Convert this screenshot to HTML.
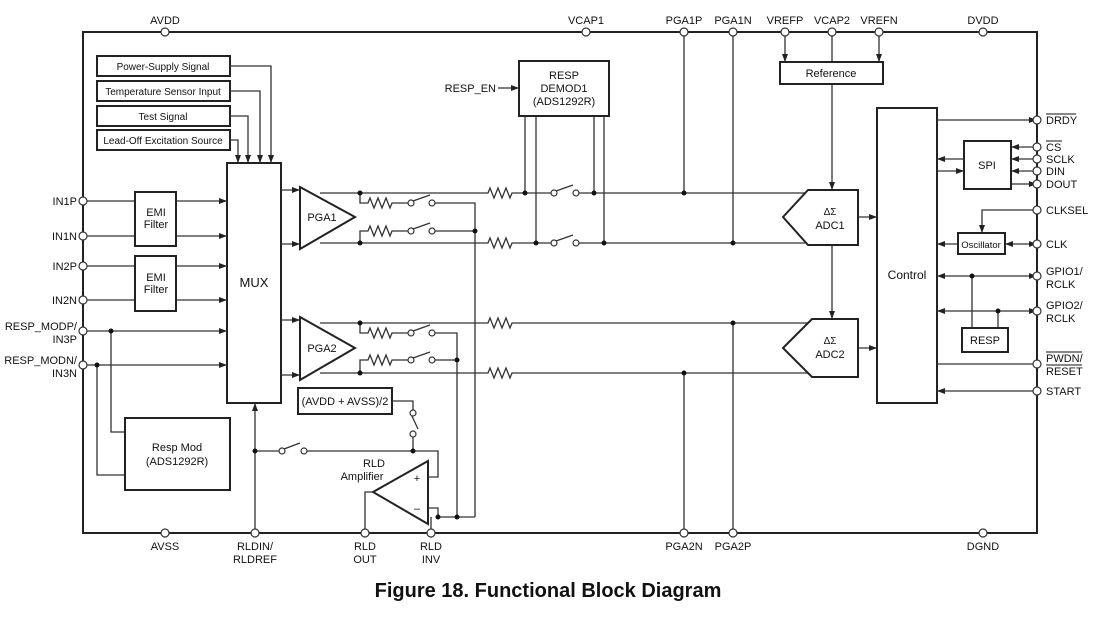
<!DOCTYPE html>
<html><head><meta charset="utf-8"><style>
body{margin:0;background:#fff;}
svg{display:block;font-family:"Liberation Sans",Arial,sans-serif;}
text{font-size:11px;fill:#111;}
.sm{font-size:10px;}
.l{stroke:#333;stroke-width:1.3;fill:none;}
.b{stroke:#222;stroke-width:2;fill:#fff;}
.p{fill:#fff;stroke:#333;stroke-width:1.2;}
.d{fill:#111;}
</style></head><body>
<svg width="1105" height="618" viewBox="0 0 1105 618">
<defs>
<marker id="a" markerWidth="8" markerHeight="6" refX="8" refY="3" orient="auto" markerUnits="userSpaceOnUse"><path d="M0,0L8,3L0,6z" fill="#222"/></marker>
<marker id="s" markerWidth="8" markerHeight="6" refX="0" refY="3" orient="auto" markerUnits="userSpaceOnUse"><path d="M8,0L0,3L8,6z" fill="#222"/></marker>
</defs>
<rect x="83" y="32" width="954" height="501" fill="none" stroke="#222" stroke-width="2"/>

<rect class="b" x="97" y="56" width="133" height="20"/><text class="sm" x="163" y="70" text-anchor="middle">Power-Supply Signal</text>
<rect class="b" x="97" y="81" width="133" height="20"/><text class="sm" x="163" y="95" text-anchor="middle">Temperature Sensor Input</text>
<rect class="b" x="97" y="106" width="133" height="20"/><text class="sm" x="163" y="120" text-anchor="middle">Test Signal</text>
<rect class="b" x="97" y="130" width="133" height="20"/><text class="sm" x="163" y="144" text-anchor="middle">Lead-Off Excitation Source</text>
<path class="l" d="M230,66H271V163" marker-end="url(#a)"/>
<path class="l" d="M230,91H260V163" marker-end="url(#a)"/>
<path class="l" d="M230,116H248V163" marker-end="url(#a)"/>
<path class="l" d="M230,140H238V163" marker-end="url(#a)"/>

<rect class="b" x="227" y="163" width="54" height="240"/><text x="254" y="287" text-anchor="middle" style="font-size:13px">MUX</text>
<g class="l">
<path d="M83,201H227" marker-end="url(#a)"/><path d="M83,236H227" marker-end="url(#a)"/>
<path d="M83,266H227" marker-end="url(#a)"/><path d="M83,300H227" marker-end="url(#a)"/>
<path d="M83,331H227" marker-end="url(#a)"/><path d="M83,365H227" marker-end="url(#a)"/>
<path d="M111,331V432H125"/><path d="M97,365V475H125"/>
</g>
<rect class="b" x="135" y="192" width="41" height="54"/><text x="156" y="216" text-anchor="middle">EMI</text><text x="156" y="228" text-anchor="middle">Filter</text>
<rect class="b" x="135" y="256" width="41" height="55"/><text x="156" y="281" text-anchor="middle">EMI</text><text x="156" y="293" text-anchor="middle">Filter</text>
<circle class="d" cx="111" cy="331" r="2.5"/><circle class="d" cx="97" cy="365" r="2.5"/>
<rect class="b" x="125" y="418" width="105" height="72"/><text x="177" y="451" text-anchor="middle">Resp Mod</text><text x="177" y="465" text-anchor="middle">(ADS1292R)</text>

<g text-anchor="end">
<text x="77" y="205">IN1P</text><text x="77" y="240">IN1N</text><text x="77" y="270">IN2P</text><text x="77" y="304">IN2N</text>
<text x="77" y="330">RESP_MODP/</text><text x="77" y="343">IN3P</text>
<text x="77" y="364">RESP_MODN/</text><text x="77" y="377">IN3N</text>
</g>

<g class="l">
<path d="M281,190H300" marker-end="url(#a)"/><path d="M281,244H300" marker-end="url(#a)"/>
<path d="M281,320H300" marker-end="url(#a)"/><path d="M281,375H300" marker-end="url(#a)"/>
</g>
<path class="b" d="M300,187L355,217L300,249Z"/><text x="322" y="221" text-anchor="middle">PGA1</text>
<path class="b" d="M300,317L355,348L300,380Z"/><text x="322" y="352" text-anchor="middle">PGA2</text>

<g class="l">
<path d="M320,193H488l2,-5l4,10l4,-10l4,10l4,-10l4,10l2,-5H553"/>
<path d="M576,193H805"/>
<path d="M320,243H488l2,-5l4,10l4,-10l4,10l4,-10l4,10l2,-5H553"/>
<path d="M576,243H805"/>
<path d="M360,193V203H368l2,-5l4,10l4,-10l4,10l4,-10l4,10l2,-5H409"/>
<path d="M360,243V231H368l2,-5l4,10l4,-10l4,10l4,-10l4,10l2,-5H409"/>
<path d="M432,203H475V517"/><path d="M432,231H475"/>
<path d="M413,201L430,195"/><path d="M413,229L430,223"/>
<path d="M556,191L573,185"/><path d="M556,241L573,235"/>
<path d="M320,323H488l2,-5l4,10l4,-10l4,10l4,-10l4,10l2,-5H809"/>
<path d="M320,373H488l2,-5l4,10l4,-10l4,10l4,-10l4,10l2,-5H809"/>
<path d="M360,323V333H368l2,-5l4,10l4,-10l4,10l4,-10l4,10l2,-5H409"/>
<path d="M360,373V360H368l2,-5l4,10l4,-10l4,10l4,-10l4,10l2,-5H409"/>
<path d="M432,333H457V517"/><path d="M432,360H457"/>
<path d="M413,331L430,325"/><path d="M413,358L430,352"/>
<path d="M525,116V193"/><path d="M536,116V243"/><path d="M594,116V193"/><path d="M604,116V243"/>
<path d="M498,88H519" marker-end="url(#a)"/>
<path d="M684,32V193"/><path d="M733,32V243"/><path d="M684,533V373"/><path d="M733,533V323"/>
</g>
<g class="p">
<circle cx="411" cy="203" r="3"/><circle cx="432" cy="203" r="3"/><circle cx="411" cy="231" r="3"/><circle cx="432" cy="231" r="3"/>
<circle cx="411" cy="333" r="3"/><circle cx="432" cy="333" r="3"/><circle cx="411" cy="360" r="3"/><circle cx="432" cy="360" r="3"/>
<circle cx="554" cy="193" r="3"/><circle cx="576" cy="193" r="3"/><circle cx="554" cy="243" r="3"/><circle cx="576" cy="243" r="3"/>
</g>
<g class="d">
<circle cx="360" cy="193" r="2.5"/><circle cx="360" cy="243" r="2.5"/><circle cx="475" cy="231" r="2.5"/>
<circle cx="360" cy="323" r="2.5"/><circle cx="360" cy="373" r="2.5"/><circle cx="457" cy="360" r="2.5"/>
<circle cx="525" cy="193" r="2.5"/><circle cx="536" cy="243" r="2.5"/><circle cx="594" cy="193" r="2.5"/><circle cx="604" cy="243" r="2.5"/>
<circle cx="684" cy="193" r="2.5"/><circle cx="733" cy="243" r="2.5"/><circle cx="733" cy="323" r="2.5"/><circle cx="684" cy="373" r="2.5"/>
</g>
<rect class="b" x="519" y="61" width="90" height="55"/>
<text x="564" y="79" text-anchor="middle">RESP</text><text x="564" y="92" text-anchor="middle">DEMOD1</text><text x="564" y="105" text-anchor="middle">(ADS1292R)</text>
<text x="496" y="92" text-anchor="end">RESP_EN</text>

<g class="l">
<path d="M785,32V62" marker-end="url(#a)"/><path d="M879,32V62" marker-end="url(#a)"/><path d="M832,32V62"/>
<path d="M832,84V190" marker-end="url(#a)"/><path d="M832,245V319" marker-end="url(#a)"/>
<path d="M858,217H877" marker-end="url(#a)"/><path d="M858,348H877" marker-end="url(#a)"/>
</g>
<rect class="b" x="780" y="62" width="103" height="22"/><text x="831" y="77" text-anchor="middle">Reference</text>
<path class="b" d="M783,217L808,190H858V245H808Z"/><text x="830" y="215" text-anchor="middle" style="font-size:10px">ΔΣ</text><text x="830" y="229" text-anchor="middle">ADC1</text>
<path class="b" d="M783,348L812,319H858V377H812Z"/><text x="830" y="344" text-anchor="middle" style="font-size:10px">ΔΣ</text><text x="830" y="358" text-anchor="middle">ADC2</text>

<rect class="b" x="877" y="108" width="60" height="295"/><text x="907" y="279" text-anchor="middle" style="font-size:12px">Control</text>
<g class="l">
<path d="M937,120H1037" marker-end="url(#a)"/>
<path d="M1037,147H1011" marker-end="url(#a)"/><path d="M1037,159H1011" marker-end="url(#a)"/><path d="M1037,171H1011" marker-end="url(#a)"/>
<path d="M1011,184H1037" marker-end="url(#a)"/>
<path d="M964,159H937" marker-end="url(#a)"/><path d="M937,171H964" marker-end="url(#a)"/>
<path d="M1037,210H982V233" marker-end="url(#a)"/>
<path d="M1005,244H1037" marker-start="url(#s)" marker-end="url(#a)"/>
<path d="M958,244H937" marker-end="url(#a)"/>
<path d="M937,276H1037" marker-start="url(#s)" marker-end="url(#a)"/>
<path d="M937,311H1037" marker-start="url(#s)" marker-end="url(#a)"/>
<path d="M972,276V328"/><path d="M998,311V328"/>
<path d="M937,364H1037"/>
<path d="M1037,391H937" marker-end="url(#a)"/>
</g>
<circle class="d" cx="972" cy="276" r="2.5"/><circle class="d" cx="998" cy="311" r="2.5"/>
<rect class="b" x="964" y="141" width="47" height="48"/><text x="987" y="169" text-anchor="middle">SPI</text>
<rect class="b" x="958" y="233" width="47" height="21"/><text x="981" y="248" text-anchor="middle" style="font-size:9.5px">Oscillator</text>
<rect class="b" x="962" y="328" width="46" height="24"/><text x="985" y="344" text-anchor="middle">RESP</text>
<g>
<text x="1046" y="124">DRDY</text><path d="M1046,114H1076" stroke="#111"/>
<text x="1046" y="151">CS</text><path d="M1046,141H1062" stroke="#111"/>
<text x="1046" y="163">SCLK</text><text x="1046" y="175">DIN</text><text x="1046" y="188">DOUT</text>
<text x="1046" y="214">CLKSEL</text><text x="1046" y="248">CLK</text>
<text x="1046" y="275">GPIO1/</text><text x="1046" y="288">RCLK</text>
<text x="1046" y="309">GPIO2/</text><text x="1046" y="322">RCLK</text>
<text x="1046" y="362">PWDN/</text><text x="1046" y="375">RESET</text>
<path d="M1046,352H1082M1046,365H1082" stroke="#111"/>
<text x="1046" y="395">START</text>
</g>

<rect class="b" x="298" y="388" width="94" height="26"/><text x="345" y="405" text-anchor="middle">(AVDD + AVSS)/2</text>
<g class="l">
<path d="M255,533V403" marker-end="url(#a)"/>
<path d="M255,451H280"/><path d="M302,451H438V477H428"/>
<path d="M284,449L300,443"/>
<path d="M392,401H413V410"/><path d="M413,434V451"/><path d="M411,414L418,429"/>
<path d="M365,533V492H373"/>
<path d="M428,508H438V517H475"/><path d="M431,533V517"/>
</g>
<g class="p"><circle cx="282" cy="451" r="3"/><circle cx="304" cy="451" r="3"/><circle cx="413" cy="413" r="3"/><circle cx="413" cy="434" r="3"/></g>
<g class="d"><circle cx="255" cy="451" r="2.5"/><circle cx="413" cy="451" r="2.5"/><circle cx="438" cy="517" r="2.5"/><circle cx="457" cy="517" r="2.5"/></g>
<path class="b" d="M428,461V524L373,492Z"/>
<text x="417" y="482" text-anchor="middle">+</text><text x="417" y="512" text-anchor="middle">–</text>
<text x="374" y="467" text-anchor="middle">RLD</text><text x="362" y="480" text-anchor="middle">Amplifier</text>

<g class="p">
<circle cx="165" cy="32" r="4"/><circle cx="586" cy="32" r="4"/><circle cx="684" cy="32" r="4"/><circle cx="733" cy="32" r="4"/>
<circle cx="785" cy="32" r="4"/><circle cx="832" cy="32" r="4"/><circle cx="879" cy="32" r="4"/><circle cx="983" cy="32" r="4"/>
<circle cx="165" cy="533" r="4"/><circle cx="255" cy="533" r="4"/><circle cx="365" cy="533" r="4"/><circle cx="431" cy="533" r="4"/>
<circle cx="684" cy="533" r="4"/><circle cx="733" cy="533" r="4"/><circle cx="983" cy="533" r="4"/>
<circle cx="83" cy="201" r="4"/><circle cx="83" cy="236" r="4"/><circle cx="83" cy="266" r="4"/><circle cx="83" cy="300" r="4"/>
<circle cx="83" cy="331" r="4"/><circle cx="83" cy="365" r="4"/>
<circle cx="1037" cy="120" r="4"/><circle cx="1037" cy="147" r="4"/><circle cx="1037" cy="159" r="4"/><circle cx="1037" cy="171" r="4"/>
<circle cx="1037" cy="184" r="4"/><circle cx="1037" cy="210" r="4"/><circle cx="1037" cy="244" r="4"/><circle cx="1037" cy="276" r="4"/>
<circle cx="1037" cy="311" r="4"/><circle cx="1037" cy="364" r="4"/><circle cx="1037" cy="391" r="4"/>
</g>
<g text-anchor="middle">
<text x="165" y="24">AVDD</text><text x="586" y="24">VCAP1</text><text x="684" y="24">PGA1P</text><text x="733" y="24">PGA1N</text>
<text x="785" y="24">VREFP</text><text x="832" y="24">VCAP2</text><text x="879" y="24">VREFN</text><text x="983" y="24">DVDD</text>
<text x="165" y="550">AVSS</text><text x="255" y="550">RLDIN/</text><text x="255" y="563">RLDREF</text>
<text x="365" y="550">RLD</text><text x="365" y="563">OUT</text><text x="431" y="550">RLD</text><text x="431" y="563">INV</text>
<text x="684" y="550">PGA2N</text><text x="733" y="550">PGA2P</text><text x="983" y="550">DGND</text>
<text x="548" y="597" style="font-size:20px;font-weight:bold">Figure 18.  Functional Block Diagram</text>
</g>
</svg>
</body></html>
